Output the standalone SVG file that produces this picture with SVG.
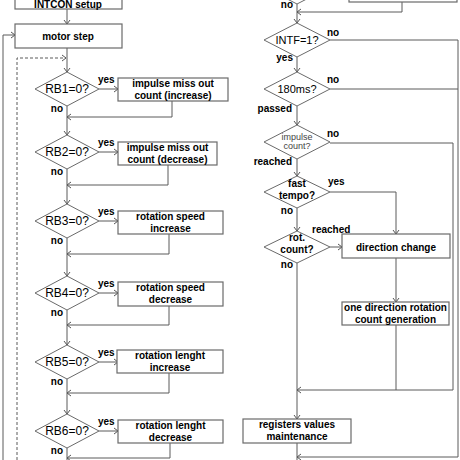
<svg xmlns="http://www.w3.org/2000/svg" width="460" height="460" viewBox="0 0 460 460">
<style>
.bx{fill:#fff;stroke:#6a6a6a;stroke-width:1.2}
.dm{fill:#fff;stroke:#6a6a6a;stroke-width:1}
.ln{fill:none;stroke:#5a5a5a;stroke-width:1}
.ds{fill:none;stroke:#5a5a5a;stroke-width:1;stroke-dasharray:3,2}
text{font-family:"Liberation Sans",Arial,sans-serif;fill:#000}
.t{font-size:10px;font-weight:bold;text-anchor:middle}
.l{font-size:10px;font-weight:bold}
.d{font-size:12px;text-anchor:middle}
.d2{font-size:11px;text-anchor:middle}
.s{font-size:9px;text-anchor:middle;fill:#444}
.e{text-anchor:end}
</style>
<defs>
<marker id="a" markerWidth="8" markerHeight="8" refX="6" refY="4" orient="auto" markerUnits="userSpaceOnUse"><path d="M2,1 L6,4 L2,7" fill="none" stroke="#555" stroke-width="1"/></marker>
</defs>
<rect width="460" height="460" fill="#fff"/>
<g id="connectors">
<path class="ln" d="M67,9 V24" marker-end="url(#a)"/>
<path class="ln" d="M3,460 V35 H15" marker-end="url(#a)"/>
<path class="ds" d="M17,460 V58 H66" marker-end="url(#a)"/>
<path class="ln" d="M67,48 V72" marker-end="url(#a)"/>
<path class="ln" d="M99,89 H118" marker-end="url(#a)"/>
<path class="ln" d="M172,101 V117 H67" marker-end="url(#a)"/>
<path class="ln" d="M67,106 V135" marker-end="url(#a)"/>
<path class="ln" d="M99,152 H118" marker-end="url(#a)"/>
<path class="ln" d="M168,165 V185 H67" marker-end="url(#a)"/>
<path class="ln" d="M67,169 V204" marker-end="url(#a)"/>
<path class="ln" d="M99,221 H118" marker-end="url(#a)"/>
<path class="ln" d="M169,234 V254 H67" marker-end="url(#a)"/>
<path class="ln" d="M67,238 V276" marker-end="url(#a)"/>
<path class="ln" d="M99,293 H118" marker-end="url(#a)"/>
<path class="ln" d="M169,306 V325 H67" marker-end="url(#a)"/>
<path class="ln" d="M67,310 V345" marker-end="url(#a)"/>
<path class="ln" d="M99,362 H118" marker-end="url(#a)"/>
<path class="ln" d="M169,373 V393 H67" marker-end="url(#a)"/>
<path class="ln" d="M67,379 V414" marker-end="url(#a)"/>
<path class="ln" d="M99,431 H118" marker-end="url(#a)"/>
<path class="ln" d="M170,443 V458 H67" marker-end="url(#a)"/>
<path class="ln" d="M67,448 V460"/>
<path class="ln" d="M297,4 V23" marker-end="url(#a)"/>
<path class="ln" d="M402,2 V12 H297" marker-end="url(#a)"/>
<path class="ln" d="M297,57 V72" marker-end="url(#a)"/>
<path class="ln" d="M297,106 V125" marker-end="url(#a)"/>
<path class="ln" d="M297,159 V176" marker-end="url(#a)"/>
<path class="ln" d="M297,208 V231" marker-end="url(#a)"/>
<path class="ln" d="M330,247 H342" marker-end="url(#a)"/>
<path class="ln" d="M330,192 H396 V234" marker-end="url(#a)"/>
<path class="ln" d="M396,258 V302" marker-end="url(#a)"/>
<path class="ln" d="M396,325 V390"/>
<path class="ln" d="M330,143 H453 V390 H297" marker-end="url(#a)"/>
<path class="ln" d="M297,263 V419" marker-end="url(#a)"/>
<path class="ln" d="M330,40 H458 V457 H297" marker-end="url(#a)"/>
<path class="ln" d="M330,89 H458"/>
<path class="ln" d="M297,443 V460"/>
</g>
<g id="intcon"><rect class="bx" x="15" y="-14" width="107" height="23"/><text class="t" x="68" y="7.8">INTCON setup</text></g>
<g id="motorstep"><rect class="bx" x="15" y="24" width="107" height="24"/><text class="t" x="68" y="39.5">motor step</text></g>

<g id="rb1"><polygon class="dm" points="67,72 99,89 67,106 35,89"/><text class="d" x="67" y="93">RB1=0?</text><text class="l" x="98" y="83">yes</text><text class="l e" x="63" y="112">no</text></g>
<g id="box1"><rect class="bx" x="118" y="78" width="110" height="23"/><text class="t" x="173" y="87">impulse miss out</text><text class="t" x="173" y="98.5">count (increase)</text></g>

<g id="rb2"><polygon class="dm" points="67,135 99,152 67,169 35,152"/><text class="d" x="67" y="156">RB2=0?</text><text class="l" x="98" y="146">yes</text><text class="l e" x="63" y="175">no</text></g>
<g id="box2"><rect class="bx" x="118" y="142" width="99" height="23"/><text class="t" x="167.5" y="151">impulse miss out</text><text class="t" x="167.5" y="162.5">count (decrease)</text></g>

<g id="rb3"><polygon class="dm" points="67,204 99,221 67,238 35,221"/><text class="d" x="67" y="225">RB3=0?</text><text class="l" x="98" y="215">yes</text><text class="l e" x="63" y="244">no</text></g>
<g id="box3"><rect class="bx" x="118" y="211" width="105" height="23"/><text class="t" x="170.5" y="220">rotation speed</text><text class="t" x="170.5" y="231.5">increase</text></g>

<g id="rb4"><polygon class="dm" points="67,276 99,293 67,310 35,293"/><text class="d" x="67" y="297">RB4=0?</text><text class="l" x="98" y="287">yes</text><text class="l e" x="63" y="316">no</text></g>
<g id="box4"><rect class="bx" x="118" y="282" width="105" height="24"/><text class="t" x="170.5" y="291">rotation speed</text><text class="t" x="170.5" y="303">decrease</text></g>

<g id="rb5"><polygon class="dm" points="67,345 99,362 67,379 35,362"/><text class="d" x="67" y="366">RB5=0?</text><text class="l" x="98" y="356">yes</text><text class="l e" x="63" y="385">no</text></g>
<g id="box5"><rect class="bx" x="117" y="350" width="106" height="23"/><text class="t" x="170" y="359">rotation lenght</text><text class="t" x="170" y="370.5">increase</text></g>

<g id="rb6"><polygon class="dm" points="67,414 99,431 67,448 35,431"/><text class="d" x="67" y="435">RB6=0?</text><text class="l" x="98" y="425">yes</text><text class="l e" x="63" y="454">no</text></g>
<g id="box6"><rect class="bx" x="118" y="420" width="105" height="23"/><text class="t" x="170.5" y="429">rotation lenght</text><text class="t" x="170.5" y="440.5">decrease</text></g>

<g id="toprdiamond"><polygon class="dm" points="297,-30 330,-13 297,4 264,-13"/><text class="l e" x="293" y="8">no</text></g>
<g id="toprbox"><rect class="bx" x="349" y="-22" width="108" height="24"/></g>

<g id="intf"><polygon class="dm" points="297,23 330,40 297,57 264,40"/><text class="d2" x="297" y="44">INTF=1?</text><text class="l" x="327" y="36">no</text><text class="l e" x="293" y="61">yes</text></g>
<g id="ms180"><polygon class="dm" points="297,72 330,89 297,106 264,89"/><text class="d2" x="297" y="93">180ms?</text><text class="l" x="327" y="83">no</text><text class="l e" x="292" y="112">passed</text></g>
<g id="impulse"><polygon class="dm" points="297,125 330,142 297,159 264,142"/><text class="s" x="297" y="140">impulse</text><text class="s" x="297" y="149">count?</text><text class="l" x="327" y="137">no</text><text class="l e" x="292" y="165">reached</text></g>
<g id="fast"><polygon class="dm" points="297,176 330,192 297,208 264,192"/><text class="t" x="297" y="187">fast</text><text class="t" x="297" y="199">tempo?</text><text class="l" x="328" y="185">yes</text><text class="l e" x="293" y="214">no</text></g>
<g id="rot"><polygon class="dm" points="297,231 330,247 297,263 264,247"/><text class="t" x="297" y="241">rot.</text><text class="t" x="297" y="253">count?</text><text class="l" x="312" y="233">reached</text><text class="l e" x="293" y="268">no</text></g>
<g id="dirchange"><rect class="bx" x="342" y="234" width="108" height="24"/><text class="t" x="396" y="250.5">direction change</text></g>
<g id="onedir"><rect class="bx" x="342" y="302" width="107" height="23"/><text class="t" x="395.5" y="311">one direction rotation</text><text class="t" x="395.5" y="322.5">count generation</text></g>
<g id="registers"><rect class="bx" x="243" y="419" width="108" height="24"/><text class="t" x="297" y="428">registers values</text><text class="t" x="297" y="440">maintenance</text></g>
</svg>
